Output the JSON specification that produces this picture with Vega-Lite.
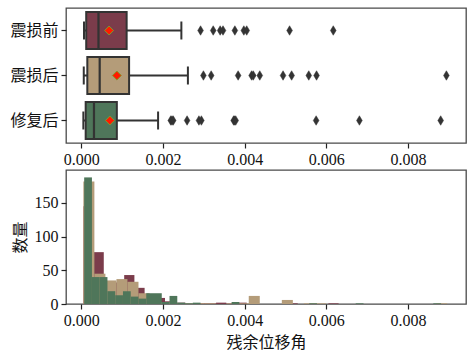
{
  "$schema": "https://vega.github.io/schema/vega-lite/v6.json",
  "padding": {"left": 9, "top": 7, "right": 5, "bottom": 5},
  "background": "white",
  "spacing": 27,
  "bounds": "flush",
  "datasets": {
    "boxes": [
      {"group": "震损前", "lower": 0.000066, "q1": 0.00012, "median": 0.00042, "q3": 0.00111, "upper": 0.00245, "mean": 0.00068},
      {"group": "震损后", "lower": 0.00006, "q1": 0.000147, "median": 0.00045, "q3": 0.00117, "upper": 0.00261, "mean": 0.00087},
      {"group": "修复后", "lower": 0.00005, "q1": 0.000107, "median": 0.00031, "q3": 0.00087, "upper": 0.00188, "mean": 0.0007}
    ],
    "outliers": [
      {"group": "震损前", "value": 0.00292}, {"group": "震损前", "value": 0.00323}, {"group": "震损前", "value": 0.0034},
      {"group": "震损前", "value": 0.00347}, {"group": "震损前", "value": 0.00376}, {"group": "震损前", "value": 0.00398},
      {"group": "震损前", "value": 0.00405}, {"group": "震损前", "value": 0.0051}, {"group": "震损前", "value": 0.00617},
      {"group": "震损后", "value": 0.00299}, {"group": "震损后", "value": 0.00318}, {"group": "震损后", "value": 0.00384},
      {"group": "震损后", "value": 0.00417}, {"group": "震损后", "value": 0.00421}, {"group": "震损后", "value": 0.00437},
      {"group": "震损后", "value": 0.00494}, {"group": "震损后", "value": 0.00515}, {"group": "震损后", "value": 0.00557},
      {"group": "震损后", "value": 0.00576}, {"group": "震损后", "value": 0.00894},
      {"group": "修复后", "value": 0.00219}, {"group": "修复后", "value": 0.00222}, {"group": "修复后", "value": 0.00225},
      {"group": "修复后", "value": 0.00259}, {"group": "修复后", "value": 0.00288}, {"group": "修复后", "value": 0.00294},
      {"group": "修复后", "value": 0.00373}, {"group": "修复后", "value": 0.00375}, {"group": "修复后", "value": 0.00378},
      {"group": "修复后", "value": 0.00575}, {"group": "修复后", "value": 0.00681}, {"group": "修复后", "value": 0.0088}
    ],
    "hist": [
      {"group": "震损前", "start": 0.00005, "end": 0.0003, "count": 145},
      {"group": "震损前", "start": 0.0003, "end": 0.00055, "count": 77},
      {"group": "震损前", "start": 0.00055, "end": 0.0008, "count": 28},
      {"group": "震损前", "start": 0.0008, "end": 0.00105, "count": 32},
      {"group": "震损前", "start": 0.00105, "end": 0.0013, "count": 43},
      {"group": "震损前", "start": 0.0013, "end": 0.00155, "count": 24},
      {"group": "震损前", "start": 0.00155, "end": 0.0018, "count": 12},
      {"group": "震损前", "start": 0.0018, "end": 0.00205, "count": 9},
      {"group": "震损前", "start": 0.00205, "end": 0.0023, "count": 4},
      {"group": "震损前", "start": 0.0023, "end": 0.00255, "count": 2},
      {"group": "震损前", "start": 0.0028, "end": 0.00305, "count": 1},
      {"group": "震损前", "start": 0.00305, "end": 0.0033, "count": 1},
      {"group": "震损前", "start": 0.0033, "end": 0.00355, "count": 2},
      {"group": "震损前", "start": 0.00355, "end": 0.0038, "count": 1},
      {"group": "震损前", "start": 0.0038, "end": 0.00405, "count": 2},
      {"group": "震损前", "start": 0.00505, "end": 0.0053, "count": 1},
      {"group": "震损前", "start": 0.00605, "end": 0.0063, "count": 1},
      {"group": "震损后", "start": 0.00005, "end": 0.00032, "count": 182},
      {"group": "震损后", "start": 0.00032, "end": 0.00059, "count": 45},
      {"group": "震损后", "start": 0.00059, "end": 0.00086, "count": 35},
      {"group": "震损后", "start": 0.00086, "end": 0.00113, "count": 37},
      {"group": "震损后", "start": 0.00113, "end": 0.0014, "count": 33},
      {"group": "震损后", "start": 0.0014, "end": 0.00167, "count": 16},
      {"group": "震损后", "start": 0.00167, "end": 0.00194, "count": 6},
      {"group": "震损后", "start": 0.00194, "end": 0.00221, "count": 3},
      {"group": "震损后", "start": 0.00221, "end": 0.00248, "count": 1},
      {"group": "震损后", "start": 0.00248, "end": 0.00275, "count": 1},
      {"group": "震损后", "start": 0.00275, "end": 0.00302, "count": 1},
      {"group": "震损后", "start": 0.00302, "end": 0.00329, "count": 1},
      {"group": "震损后", "start": 0.00356, "end": 0.00383, "count": 1},
      {"group": "震损后", "start": 0.00383, "end": 0.0041, "count": 1},
      {"group": "震损后", "start": 0.0041, "end": 0.00437, "count": 12},
      {"group": "震损后", "start": 0.00491, "end": 0.00518, "count": 6},
      {"group": "震损后", "start": 0.00545, "end": 0.00572, "count": 1},
      {"group": "震损后", "start": 0.00572, "end": 0.00599, "count": 1},
      {"group": "震损后", "start": 0.00869, "end": 0.00896, "count": 1},
      {"group": "修复后", "start": 0.00007, "end": 0.00026, "count": 188},
      {"group": "修复后", "start": 0.00026, "end": 0.00045, "count": 40},
      {"group": "修复后", "start": 0.00045, "end": 0.00064, "count": 40},
      {"group": "修复后", "start": 0.00064, "end": 0.00083, "count": 19},
      {"group": "修复后", "start": 0.00083, "end": 0.00102, "count": 13},
      {"group": "修复后", "start": 0.00102, "end": 0.00121, "count": 19},
      {"group": "修复后", "start": 0.00121, "end": 0.0014, "count": 11},
      {"group": "修复后", "start": 0.0014, "end": 0.00159, "count": 8},
      {"group": "修复后", "start": 0.00159, "end": 0.00178, "count": 16},
      {"group": "修复后", "start": 0.00178, "end": 0.00197, "count": 16},
      {"group": "修复后", "start": 0.00197, "end": 0.00216, "count": 3},
      {"group": "修复后", "start": 0.00216, "end": 0.00235, "count": 12},
      {"group": "修复后", "start": 0.00235, "end": 0.00254, "count": 2},
      {"group": "修复后", "start": 0.00254, "end": 0.00273, "count": 1},
      {"group": "修复后", "start": 0.00273, "end": 0.00292, "count": 2},
      {"group": "修复后", "start": 0.00368, "end": 0.00387, "count": 3},
      {"group": "修复后", "start": 0.00558, "end": 0.00577, "count": 1},
      {"group": "修复后", "start": 0.00672, "end": 0.00691, "count": 1},
      {"group": "修复后", "start": 0.00862, "end": 0.00881, "count": 1}
    ]
  },
  "config": {
    "view": {"stroke": "#4a4a4a", "strokeWidth": 1.3},
    "axis": {
      "domain": false, "grid": false,
      "labelFont": "Liberation Serif", "labelFontSize": 16, "labelColor": "#111",
      "titleFont": "Noto Sans CJK SC", "titleFontSize": 16, "titleFontWeight": "normal", "titleColor": "#111",
      "tickColor": "#222", "tickSize": 5, "tickWidth": 1.2, "labelPadding": 3
    }
  },
  "vconcat": [
    {
      "width": 400,
      "height": 135,
      "encoding": {
        "y": {"field": "group", "type": "nominal", "sort": ["震损前", "震损后", "修复后"],
              "scale": {"domain": ["震损前", "震损后", "修复后"], "paddingInner": 0, "paddingOuter": 0},
              "axis": {"title": null, "labelFont": "Noto Sans CJK SC", "labelFontSize": 16}}
      },
      "layer": [
        {
          "data": {"name": "boxes"},
          "mark": {"type": "rule", "stroke": "#333333", "strokeWidth": 2},
          "encoding": {
            "x": {"field": "lower", "type": "quantitative", "scale": {"domain": [-0.000375, 0.00942], "nice": false, "zero": false},
                  "axis": {"title": null, "values": [0, 0.002, 0.004, 0.006, 0.008], "format": ".3f"}},
            "x2": {"field": "upper"}
          }
        },
        {
          "data": {"name": "boxes"},
          "mark": {"type": "tick", "orient": "vertical", "size": 18, "thickness": 2, "color": "#333333", "opacity": 1},
          "encoding": {"x": {"field": "lower", "type": "quantitative"}}
        },
        {
          "data": {"name": "boxes"},
          "mark": {"type": "tick", "orient": "vertical", "size": 18, "thickness": 2, "color": "#333333", "opacity": 1},
          "encoding": {"x": {"field": "upper", "type": "quantitative"}}
        },
        {
          "data": {"name": "boxes"},
          "mark": {"type": "bar", "size": 37, "stroke": "#333333", "strokeWidth": 2, "opacity": 1},
          "encoding": {
            "x": {"field": "q1", "type": "quantitative"},
            "x2": {"field": "q3"},
            "color": {"field": "group", "type": "nominal", "legend": null,
                      "scale": {"domain": ["震损前", "震损后", "修复后"], "range": ["#7b3c4b", "#b49c79", "#4f765a"]}}
          }
        },
        {
          "data": {"name": "boxes"},
          "mark": {"type": "tick", "orient": "vertical", "size": 37, "thickness": 2.2, "color": "#333333", "opacity": 1},
          "encoding": {"x": {"field": "median", "type": "quantitative"}}
        },
        {
          "data": {"name": "boxes"},
          "mark": {"type": "point", "shape": "diamond", "size": 80, "filled": true, "fill": "#ff1a00", "stroke": "#7f9a2a", "strokeWidth": 1, "opacity": 1},
          "encoding": {"x": {"field": "mean", "type": "quantitative"}}
        },
        {
          "data": {"name": "outliers"},
          "mark": {"type": "point", "shape": "M0,-1L0.6,0L0,1L-0.6,0Z", "size": 90, "filled": true, "fill": "#333333", "stroke": "#333333", "strokeWidth": 0.5, "opacity": 1},
          "encoding": {"x": {"field": "value", "type": "quantitative"}}
        }
      ]
    },
    {
      "width": 400,
      "height": 134,
      "data": {"name": "hist"},
      "mark": {"type": "bar", "opacity": 1, "strokeWidth": 0},
      "encoding": {
        "x": {"field": "start", "type": "quantitative", "scale": {"domain": [-0.000375, 0.00942], "nice": false, "zero": false},
              "axis": {"title": "残余位移角", "values": [0, 0.002, 0.004, 0.006, 0.008], "format": ".3f", "titlePadding": 6}},
        "x2": {"field": "end"},
        "y": {"field": "count", "type": "quantitative", "stack": null, "scale": {"domain": [0, 199], "nice": false},
              "axis": {"title": "数量", "values": [0, 50, 100, 150], "titlePadding": 6}},
        "y2": {"datum": 0},
        "color": {"field": "group", "type": "nominal", "legend": null,
                  "scale": {"domain": ["震损前", "震损后", "修复后"], "range": ["#864554", "#bca482", "#587e60"]}}
      }
    }
  ]
}
